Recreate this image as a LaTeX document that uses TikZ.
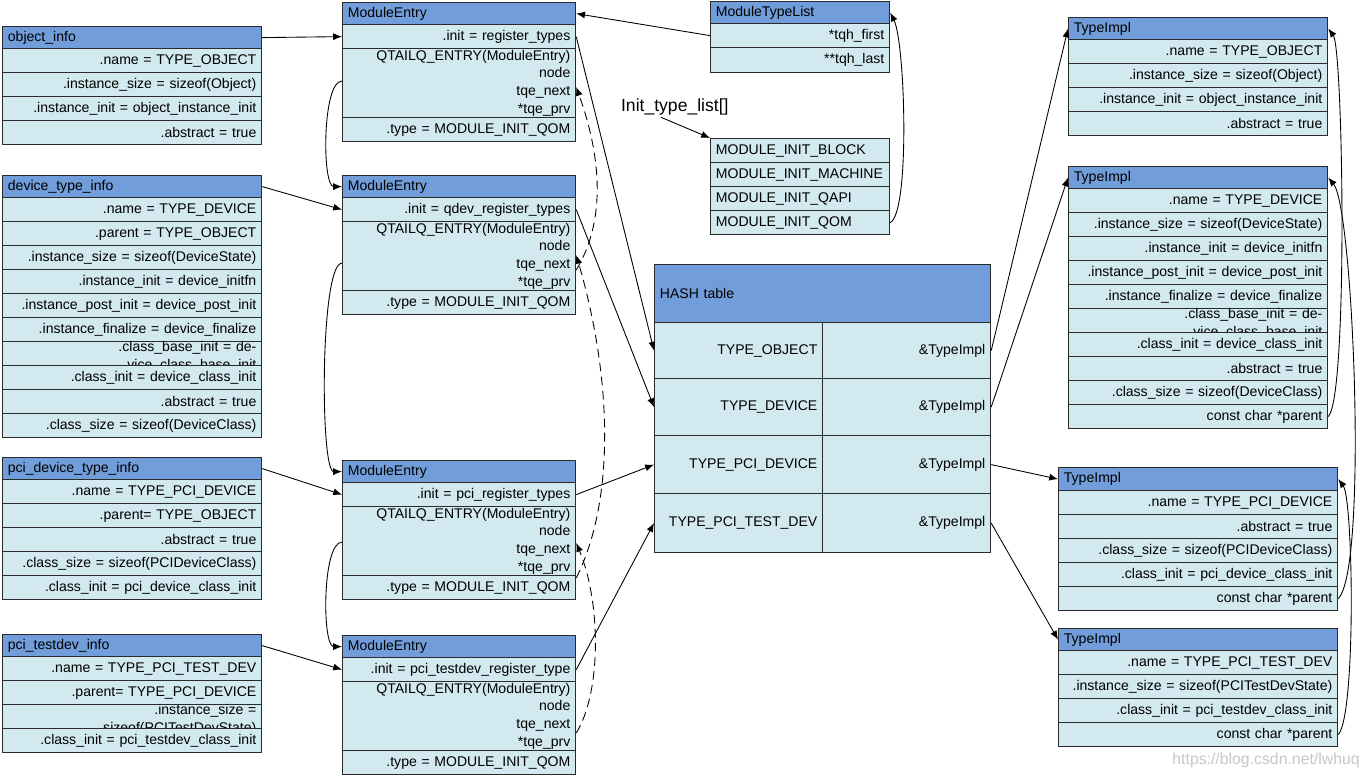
\documentclass[tikz,border=0pt]{standalone}
\usepackage{fontspec}
\setmainfont{Liberation Sans}
\usetikzlibrary{arrows.meta, calc}
\definecolor{hdrblue}{HTML}{719DDA}
\definecolor{fldblue}{HTML}{D2E9F0}
\definecolor{edgegray}{HTML}{2A2A2A}

% one cell of a record: name, x, y (top left, pixels), width, height, text
\newcommand\fld[7][right]{%
  \pgfmathsetmacro\tw{#5*0.02*28.45274-6}%
  \node[cell, fill=fldblue, align=#1, text width=\tw pt,
        minimum width=#5*0.02cm, minimum height=#6*0.02cm] (#2) at (#3,#4) {#7};}
\newcommand\hdr[6]{%
  \pgfmathsetmacro\tw{#4*0.02*28.45274-6}%
  \node[cell, fill=hdrblue, align=left, text width=\tw pt,
        minimum width=#4*0.02cm, minimum height=#5*0.02cm] (#1) at (#2,#3) {#6};}

\begin{document}
\begin{tikzpicture}[x=0.02cm, y=-0.02cm,
  cell/.style={draw=edgegray, line width=0.7pt, anchor=north west, inner xsep=3pt,
               inner ysep=0pt, font=\fontsize{8}{10}\selectfont},
  link/.style={-{Latex[length=5pt,width=4pt]}, line width=0.5pt},
  dlink/.style={link, dash pattern=on 5pt off 3pt}]
\useasboundingbox (0,0) rectangle (1367,776);

% ---- type info structs (left column)
\hdr{oi}{2}{26}{259}{22}{object\_info}
\fld{oi1}{2}{48}{259}{24}{.name = TYPE\_OBJECT}
\fld{oi2}{2}{72}{259}{24}{.instance\_size = sizeof(Object)}
\fld{oi3}{2}{96}{259}{24}{.instance\_init = object\_instance\_init}
\fld{oi4}{2}{120}{259}{24}{.abstract = true}

\hdr{di}{2}{175}{259}{22}{device\_type\_info}
\fld{di1}{2}{197}{259}{24}{.name = TYPE\_DEVICE}
\fld{di2}{2}{221}{259}{24}{.parent = TYPE\_OBJECT}
\fld{di3}{2}{245}{259}{24}{.instance\_size = sizeof(DeviceState)}
\fld{di4}{2}{269}{259}{24}{.instance\_init = device\_initfn}
\fld{di5}{2}{293}{259}{24}{.instance\_post\_init = device\_post\_init}
\fld{di6}{2}{317}{259}{24}{.instance\_finalize = device\_finalize}
\fld{di7}{2}{341}{259}{24}{.class\_base\_init = device\_class\_base\_init}
\fld{di8}{2}{365}{259}{24}{.class\_init = device\_class\_init}
\fld{di9}{2}{389}{259}{24}{.abstract = true}
\fld{di10}{2}{413}{259}{24}{.class\_size = sizeof(DeviceClass)}

\hdr{pi}{2}{457}{259}{22}{pci\_device\_type\_info}
\fld{pi1}{2}{479}{259}{24}{.name = TYPE\_PCI\_DEVICE}
\fld{pi2}{2}{503}{259}{24}{.parent= TYPE\_OBJECT}
\fld{pi3}{2}{527}{259}{24}{.abstract = true}
\fld{pi4}{2}{551}{259}{24}{.class\_size = sizeof(PCIDeviceClass)}
\fld{pi5}{2}{575}{259}{24}{.class\_init = pci\_device\_class\_init}

\hdr{ti}{2}{634}{259}{22}{pci\_testdev\_info}
\fld{ti1}{2}{656}{259}{24}{.name = TYPE\_PCI\_TEST\_DEV}
\fld{ti2}{2}{680}{259}{24}{.parent= TYPE\_PCI\_DEVICE}
\fld{ti3}{2}{704}{259}{24}{.instance\_size = sizeof(PCITestDevState)}
\fld{ti4}{2}{728}{259}{24}{.class\_init = pci\_testdev\_class\_init}

% ---- module entries
\hdr{m1}{342}{2}{233}{22}{ModuleEntry}
\fld{m1i}{342}{24}{233}{24}{.init = register\_types}
\fld{m1q}{342}{48}{233}{69}{QTAILQ\_ENTRY(ModuleEntry) node\\*tqe\_next\\**tqe\_prv}
\fld{m1t}{342}{117}{233}{24}{.type = MODULE\_INIT\_QOM}

\hdr{m2}{342}{175}{233}{22}{ModuleEntry}
\fld{m2i}{342}{197}{233}{24}{.init = qdev\_register\_types}
\fld{m2q}{342}{221}{233}{69}{QTAILQ\_ENTRY(ModuleEntry) node\\*tqe\_next\\**tqe\_prv}
\fld{m2t}{342}{290}{233}{24}{.type = MODULE\_INIT\_QOM}

\hdr{m3}{342}{460}{233}{22}{ModuleEntry}
\fld{m3i}{342}{482}{233}{24}{.init = pci\_register\_types}
\fld{m3q}{342}{506}{233}{69}{QTAILQ\_ENTRY(ModuleEntry) node\\*tqe\_next\\**tqe\_prv}
\fld{m3t}{342}{575}{233}{24}{.type = MODULE\_INIT\_QOM}

\hdr{m4}{342}{635}{233}{22}{ModuleEntry}
\fld{m4i}{342}{657}{233}{24}{.init = pci\_testdev\_register\_type}
\fld{m4q}{342}{681}{233}{69}{QTAILQ\_ENTRY(ModuleEntry) node\\*tqe\_next\\**tqe\_prv}
\fld{m4t}{342}{750}{233}{24}{.type = MODULE\_INIT\_QOM}

% ---- module type list and init list
\hdr{ml}{710}{1}{179}{22}{ModuleTypeList}
\fld{ml1}{710}{23}{179}{24}{*tqh\_first}
\fld{ml2}{710}{47}{179}{25}{**tqh\_last}

\node[font=\fontsize{10}{12}\selectfont, anchor=west, inner sep=1pt] (itl) at (619,107) {Init\_type\_list[]};
\fld[left]{il1}{710}{138}{179}{24}{MODULE\_INIT\_BLOCK}
\fld[left]{il2}{710}{162}{179}{24}{MODULE\_INIT\_MACHINE}
\fld[left]{il3}{710}{186}{179}{24}{MODULE\_INIT\_QAPI}
\fld[left]{il4}{710}{210}{179}{24}{MODULE\_INIT\_QOM}

% ---- hash table
\hdr{ht}{654}{264}{336}{58}{HASH table}
\fld{hk1}{654}{322}{168}{56}{TYPE\_OBJECT}
\fld{hv1}{822}{322}{168}{56}{\&TypeImpl}
\fld{hk2}{654}{378}{168}{57}{TYPE\_DEVICE}
\fld{hv2}{822}{378}{168}{57}{\&TypeImpl}
\fld{hk3}{654}{435}{168}{58}{TYPE\_PCI\_DEVICE}
\fld{hv3}{822}{435}{168}{58}{\&TypeImpl}
\fld{hk4}{654}{493}{168}{59}{TYPE\_PCI\_TEST\_DEV}
\fld{hv4}{822}{493}{168}{59}{\&TypeImpl}

% ---- TypeImpl instances (right column)
\hdr{t1}{1068}{17}{259}{22}{TypeImpl}
\fld{t11}{1068}{39}{259}{24}{.name = TYPE\_OBJECT}
\fld{t12}{1068}{63}{259}{24}{.instance\_size = sizeof(Object)}
\fld{t13}{1068}{87}{259}{24}{.instance\_init = object\_instance\_init}
\fld{t14}{1068}{111}{259}{24}{.abstract = true}

\hdr{t2}{1068}{166}{259}{22}{TypeImpl}
\fld{t21}{1068}{188}{259}{24}{.name = TYPE\_DEVICE}
\fld{t22}{1068}{212}{259}{24}{.instance\_size = sizeof(DeviceState)}
\fld{t23}{1068}{236}{259}{24}{.instance\_init = device\_initfn}
\fld{t24}{1068}{260}{259}{24}{.instance\_post\_init = device\_post\_init}
\fld{t25}{1068}{284}{259}{24}{.instance\_finalize = device\_finalize}
\fld{t26}{1068}{308}{259}{24}{.class\_base\_init = device\_class\_base\_init}
\fld{t27}{1068}{332}{259}{24}{.class\_init = device\_class\_init}
\fld{t28}{1068}{356}{259}{24}{.abstract = true}
\fld{t29}{1068}{380}{259}{24}{.class\_size = sizeof(DeviceClass)}
\fld{t2p}{1068}{404}{259}{24}{const char *parent}

\hdr{t3}{1058}{467}{279}{23}{TypeImpl}
\fld{t31}{1058}{490}{279}{24}{.name = TYPE\_PCI\_DEVICE}
\fld{t32}{1058}{514}{279}{24}{.abstract = true}
\fld{t33}{1058}{538}{279}{24}{.class\_size = sizeof(PCIDeviceClass)}
\fld{t34}{1058}{562}{279}{24}{.class\_init = pci\_device\_class\_init}
\fld{t3p}{1058}{586}{279}{24}{const char *parent}

\hdr{t4}{1058}{628}{279}{22}{TypeImpl}
\fld{t41}{1058}{650}{279}{24}{.name = TYPE\_PCI\_TEST\_DEV}
\fld{t42}{1058}{674}{279}{24}{.instance\_size = sizeof(PCITestDevState)}
\fld{t43}{1058}{698}{279}{24}{.class\_init = pci\_testdev\_class\_init}
\fld{t4p}{1058}{722}{279}{24}{const char *parent}

\node[text=black!22, anchor=east, font=\fontsize{9}{11}\selectfont, inner sep=0pt] (wm) at (1360,760) {https://blog.csdn.net/lwhuq};

% ---- info -> module entry
\draw[link] (oi.east) -- (m1i.west);
\draw[link] (di.east) -- (m2i.west);
\draw[link] (pi.east) -- (m3i.west);
\draw[link] (ti.east) -- (m4i.west);

% ---- module entry list (next)
\draw[link] ($(m1q.west)+(0,-2)$) .. controls +(-20,0) and +(-20,0) .. (m2.west);
\draw[link] ($(m2q.west)+(0,7)$) .. controls +(-22,0) and +(-22,0) .. (m3.west);
\draw[link] ($(m3q.west)+(0,1)$) .. controls +(-20,0) and +(-20,0) .. (m4.west);

% ---- module entry list (prev, dashed)
\draw[dlink] ($(m2q.north east)+(0,49)$) .. controls +(30,-50) and +(25,70) .. ($(m1q.north east)+(0,39)$);
\draw[dlink] ($(m3t.north east)+(0,3)$) .. controls +(40,-80) and +(35,120) .. ($(m2q.north east)+(0,34)$);
\draw[dlink] ($(m4q.north east)+(0,52)$) .. controls +(25,-40) and +(25,60) .. ($(m3q.north east)+(0,37)$);

% ---- type list
\draw[link] (ml1.west) -- (m1.east);
\draw[link] (il4.east) .. controls +(20,-10) and +(15,30) .. (ml.east);
\draw[link] ($(itl.south west)+(42,0)$) -- (il1.north west);

% ---- register -> hash
\draw[link] (m1i.east) -- (hk1.west);
\draw[link] (m2i.east) -- (hk2.west);
\draw[link] (m3i.east) -- (hk3.west);
\draw[link] (m4i.east) -- (hk4.west);

% ---- hash -> TypeImpl
\draw[link] (hv1.east) -- (t1.west);
\draw[link] (hv2.east) -- (t2.west);
\draw[link] (hv3.east) -- (t3.west);
\draw[link] (hv4.east) -- (t4.west);

% ---- parent pointers
\draw[link] (t2p.east) .. controls +(20,-20) and +(15,20) .. (t1.east);
\draw[link] (t3p.east) .. controls +(30,-30) and +(25,30) .. (t2.east);
\draw[link] (t4p.east) .. controls +(18,-20) and +(15,20) .. (t3.east);
\end{tikzpicture}
\end{document}
